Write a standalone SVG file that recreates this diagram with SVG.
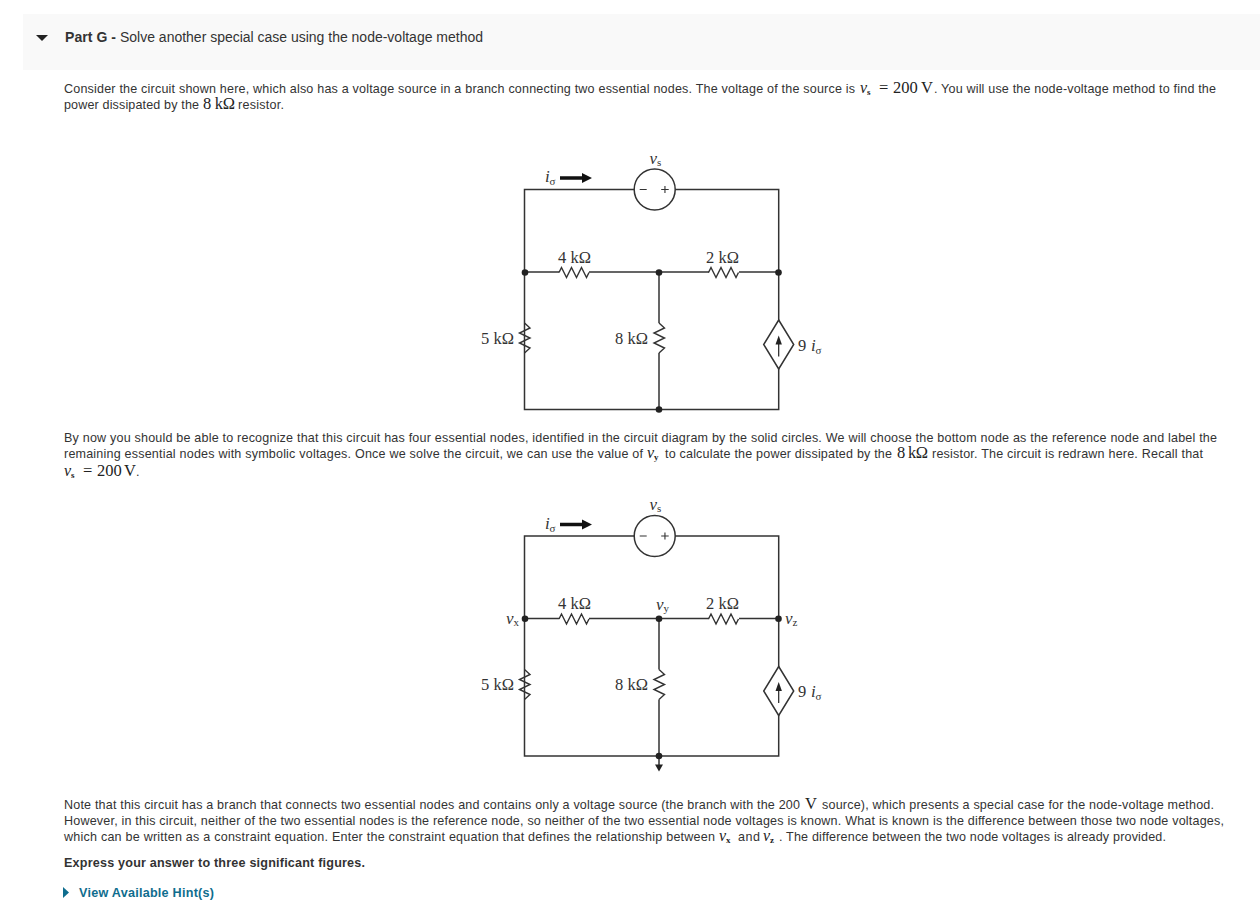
<svg xmlns="http://www.w3.org/2000/svg" xmlns:xlink="http://www.w3.org/1999/xlink" width="1260" height="904" viewBox="0 0 1260 904">
<style>
.b{font:12.55px "Liberation Sans",Arial,sans-serif;fill:#333}
.m{font:16.5px "Liberation Serif","Times New Roman",serif;fill:#222}
.mi{font:italic 16px "Liberation Serif","Times New Roman",serif;fill:#222}
.ms{font:bold 9px "Liberation Serif","Times New Roman",serif;fill:#222}
.c{font:16.500px "Liberation Serif","Times New Roman",serif;fill:#333}
.ci{font:italic 17px "Liberation Serif","Times New Roman",serif;fill:#333}
.cs{font:11px "Liberation Serif","Times New Roman",serif;fill:#333}
.w{fill:none;stroke:#333;stroke-width:1.5}
.r{fill:none;stroke:#333;stroke-width:1.4;stroke-linejoin:miter}
.d{fill:#222}
</style>
<defs>
<path id="rh" class="r" d="M-15 0L-12.500 -5L-7.500 5L-2.500 -5L2.500 5L7.500 -5L12.500 5L15 0"/>
<path id="rv" class="r" d="M0 -15L5.500 -10L-5 -5L5.500 0L-5 5L5.500 10L0 15"/>
<g id="vsrc"><circle r="20.500" fill="#fff" stroke="#333" stroke-width="1.5"/><path d="M-15 0H-8M6.500 0H14M10.250 -3.500V3.500" fill="none" stroke="#333" stroke-width="1.1"/></g>
<g id="dep"><path d="M0 -24.500L15 0L0 24.500L-15 0Z" fill="#fff" stroke="#333" stroke-width="1.5"/><path d="M0 12V-3" stroke="#222" stroke-width="1.2"/><path d="M0 -9L3.200 0H-3.200Z" fill="#222"/></g>
<path id="bigarrow" d="M0 -1.700H22V-5L32 0L22 5V1.700H0Z" fill="#111"/>
</defs>

<rect x="23" y="14" width="1237" height="56" fill="#f9f9f9"/>
<path d="M36 35H48L42 41Z" fill="#222"/>
<text x="65" y="42" style="font:bold 14px 'Liberation Sans',Arial,sans-serif;fill:#333" textLength="51">Part G -</text>
<text x="120" y="42" style="font:14px 'Liberation Sans',Arial,sans-serif;fill:#333" textLength="363">Solve another special case using the node-voltage method</text>

<text class="b" x="64" y="93" textLength="791">Consider the circuit shown here, which also has a voltage source in a branch connecting two essential nodes. The voltage of the source is</text>
<text class="mi" x="860" y="93">v</text><text class="ms" x="867" y="95">s</text><text class="m" x="879" y="93">=</text><text class="m" x="893" y="93">200</text><text class="m" x="921" y="93">V</text>
<text class="b" x="934" y="93" textLength="282">. You will use the node-voltage method to find the</text>
<text class="b" x="64" y="109" textLength="135">power dissipated by the</text><text class="m" x="203" y="109" textLength="32">8 kΩ</text><text class="b" x="238" y="109" textLength="46">resistor.</text>

<text class="b" x="64" y="442" textLength="1153">By now you should be able to recognize that this circuit has four essential nodes, identified in the circuit diagram by the solid circles. We will choose the bottom node as the reference node and label the</text>
<text class="b" x="64" y="458" textLength="579">remaining essential nodes with symbolic voltages. Once we solve the circuit, we can use the value of</text>
<text class="mi" x="647" y="458">v</text><text class="ms" x="654" y="460">y</text>
<text class="b" x="665" y="458" textLength="227">to calculate the power dissipated by the</text><text class="m" x="897" y="458" textLength="31">8 kΩ</text><text class="b" x="932" y="458" textLength="271">resistor. The circuit is redrawn here. Recall that</text>
<text class="mi" x="64" y="476">v</text><text class="ms" x="71" y="478">s</text><text class="m" x="83" y="476">=</text><text class="m" x="97" y="476">200</text><text class="m" x="124" y="476">V</text><text class="b" x="136" y="476">.</text>

<text class="b" x="64" y="809" textLength="736">Note that this circuit has a branch that connects two essential nodes and contains only a voltage source (the branch with the 200</text><text class="m" x="805" y="809">V</text><text class="b" x="822" y="809" textLength="392">source), which presents a special case for the node-voltage method.</text>
<text class="b" x="64" y="825" textLength="1160">However, in this circuit, neither of the two essential nodes is the reference node, so neither of the two essential node voltages is known. What is known is the difference between those two node voltages,</text>
<text class="b" x="64" y="841" textLength="651">which can be written as a constraint equation.  Enter the constraint equation that defines the relationship between</text>
<text class="mi" x="719" y="841">v</text><text class="ms" x="726" y="843">x</text><text class="b" x="738" y="841" textLength="22">and</text><text class="mi" x="763" y="841">v</text><text class="ms" x="770" y="843">z</text>
<text class="b" x="779" y="841" textLength="387">. The difference between the two node voltages is already provided.</text>
<text x="64" y="867" style="font:bold 12.6px 'Liberation Sans',Arial,sans-serif;fill:#333" textLength="301">Express your answer to three significant figures.</text>
<path d="M63 887L69 892.500L63 898Z" fill="#0f6d8e"/>
<text x="79" y="897" style="font:bold 12.6px 'Liberation Sans',Arial,sans-serif;fill:#0f6d8e" textLength="135">View Available Hint(s)</text>

<g id="circuit-1">
<g id="connectors-1"><path class="w" d="M634 189.500H524.500V409.500H778.700V189.500H675M524.500 272H559M589 272H709M739 272H778.700M659 272V323M659 353V409.500M524.500 272V323M524.500 353V409.500"/></g>
<g id="vs-1"><use xlink:href="#vsrc" href="#vsrc" x="654.700" y="189.500"/><text class="ci" x="649.500" y="164">v</text><text class="cs" x="657" y="166">s</text></g>
<g id="i-1"><text class="ci" x="545" y="182">i</text><text class="cs" x="549.500" y="185">σ</text><use xlink:href="#bigarrow" href="#bigarrow" x="560" y="178"/></g>
<g id="r4-1"><use xlink:href="#rh" href="#rh" x="574" y="272.500"/><text class="c" x="558" y="263">4 kΩ</text></g>
<g id="r2-1"><use xlink:href="#rh" href="#rh" x="723.500" y="272.500"/><text class="c" x="706" y="263">2 kΩ</text></g>
<g id="r5-1"><use xlink:href="#rv" href="#rv" x="524.500" y="338"/><text class="c" x="481" y="344">5 kΩ</text></g>
<g id="r8-1"><use xlink:href="#rv" href="#rv" x="659" y="338"/><text class="c" x="615" y="344">8 kΩ</text></g>
<g id="dep-1"><use xlink:href="#dep" href="#dep" x="778.700" y="344.500"/><text class="c" x="798" y="351">9</text><text class="ci" x="811" y="351">i</text><text class="cs" x="815.500" y="354">σ</text></g>
<g id="n1a"><circle class="d" cx="525" cy="272.500" r="3.300"/></g>
<g id="n1b"><circle class="d" cx="659" cy="272.500" r="3.300"/></g>
<g id="n1c"><circle class="d" cx="778.500" cy="272.500" r="3.300"/></g>
<g id="n1d"><circle class="d" cx="659" cy="409.500" r="3.300"/></g>
</g>

<g id="circuit-2">
<g id="connectors-2"><path class="w" d="M634 536H524.500V756H778.700V536H675M524.500 618.500H559M589 618.500H709M739 618.500H778.700M659 618.500V669.500M659 699.500V770M524.500 618.500V669.500M524.500 699.500V756"/></g>
<g id="vs-2"><use xlink:href="#vsrc" href="#vsrc" x="654.700" y="536"/><text class="ci" x="649.500" y="510">v</text><text class="cs" x="657" y="512">s</text></g>
<g id="i-2"><text class="ci" x="545" y="529">i</text><text class="cs" x="549.500" y="532">σ</text><use xlink:href="#bigarrow" href="#bigarrow" x="560" y="524.500"/></g>
<g id="r4-2"><use xlink:href="#rh" href="#rh" x="574" y="619"/><text class="c" x="558" y="609">4 kΩ</text></g>
<g id="r2-2"><use xlink:href="#rh" href="#rh" x="723.500" y="619"/><text class="c" x="706" y="609">2 kΩ</text></g>
<g id="r5-2"><use xlink:href="#rv" href="#rv" x="524.500" y="684.500"/><text class="c" x="481" y="690">5 kΩ</text></g>
<g id="r8-2"><use xlink:href="#rv" href="#rv" x="659" y="684.500"/><text class="c" x="615" y="690">8 kΩ</text></g>
<g id="dep-2"><use xlink:href="#dep" href="#dep" x="778.700" y="691"/><text class="c" x="798" y="697">9</text><text class="ci" x="811" y="697">i</text><text class="cs" x="815.500" y="700">σ</text></g>
<g id="n2a"><circle class="d" cx="525" cy="618.800" r="3.300"/><text class="ci" x="506" y="624">v</text><text class="cs" x="513.500" y="626">x</text></g>
<g id="n2b"><circle class="d" cx="659" cy="618.800" r="3.300"/><text class="ci" x="656" y="610">v</text><text class="cs" x="663.500" y="612">y</text></g>
<g id="n2c"><circle class="d" cx="778.500" cy="618.800" r="3.300"/><text class="ci" x="785" y="624">v</text><text class="cs" x="792.500" y="626">z</text></g>
<g id="n2d"><circle class="d" cx="659" cy="756" r="3.300"/><path class="d" d="M655 764.500H663L659 771.500Z"/></g>
</g>
</svg>
